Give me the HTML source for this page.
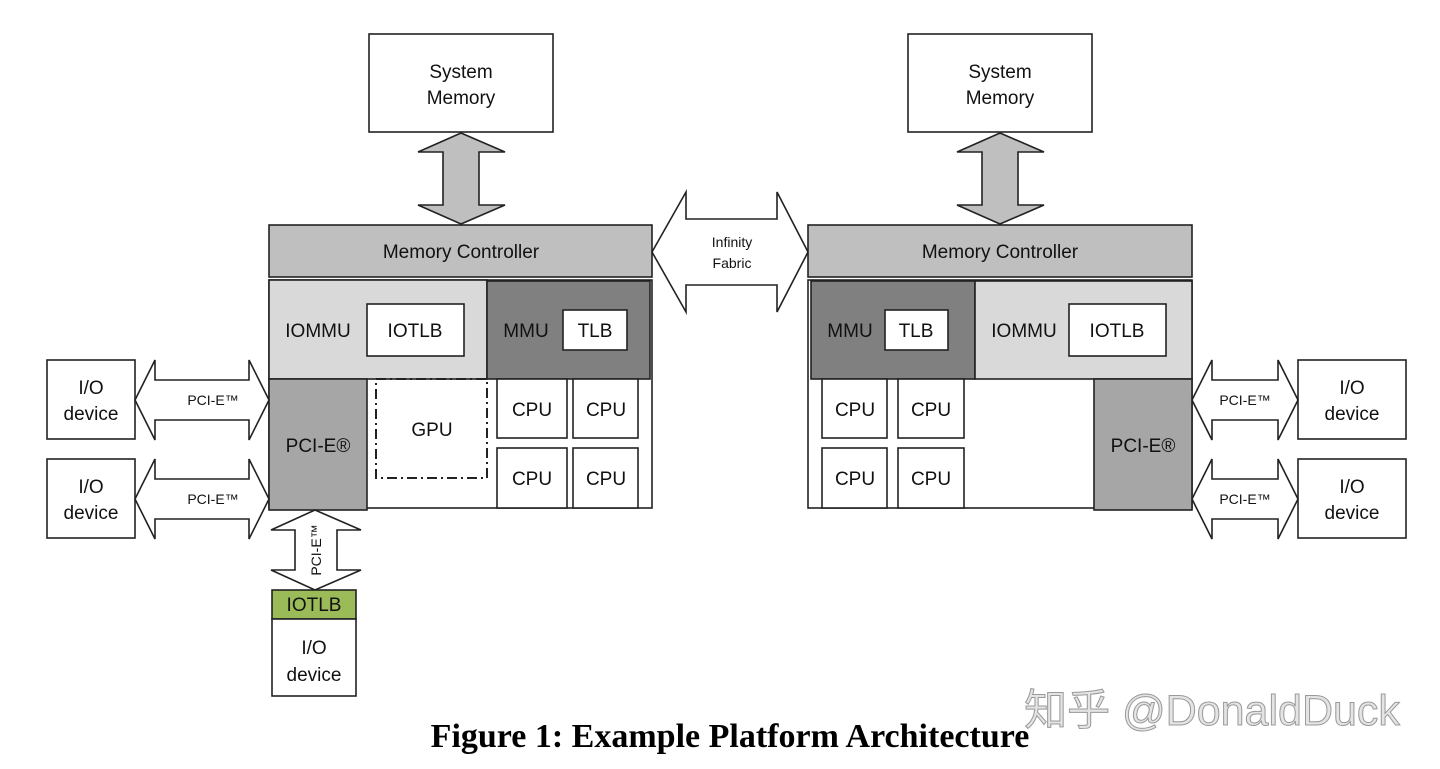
<!DOCTYPE html>
<html><head><meta charset="utf-8"><style>
html,body{margin:0;padding:0;background:#fff;}
svg{display:block;}
text{font-family:"Liberation Sans","DejaVu Sans",sans-serif;fill:#111;}
</style></head><body>
<svg width="1440" height="769" viewBox="0 0 1440 769" xmlns="http://www.w3.org/2000/svg">
<g stroke="#222" stroke-width="1.6">
<!-- LEFT -->
<rect x="369" y="34" width="184" height="98" fill="#fff"/>
<polygon points="461,133 505,152 479,152 479,205 505,205 461,224 418,205 443,205 443,152 418,152" fill="#bfbfbf"/>
<rect x="269" y="225" width="383" height="52" fill="#bfbfbf"/>
<rect x="269" y="280" width="383" height="228" fill="#fff"/>
<rect x="269" y="280" width="218" height="99" fill="#d9d9d9"/>
<rect x="367" y="304" width="97" height="52" fill="#fff"/>
<rect x="487" y="281" width="163" height="98" fill="#808080"/>
<rect x="563" y="310" width="64" height="40" fill="#fff"/>
<rect x="269" y="379" width="98" height="131" fill="#a6a6a6"/>
<rect x="376" y="379" width="111" height="99" fill="none" stroke-dasharray="10,4,2,4" stroke-width="2"/>
<rect x="497" y="379" width="70" height="59" fill="#fff"/>
<rect x="573" y="379" width="65" height="59" fill="#fff"/>
<rect x="497" y="448" width="70" height="60" fill="#fff"/>
<rect x="573" y="448" width="65" height="60" fill="#fff"/>
<rect x="47" y="360" width="88" height="79" fill="#fff"/>
<rect x="47" y="459" width="88" height="79" fill="#fff"/>
<polygon points="135,400 155,360 155,380 249,380 249,360 269,400 249,440 249,420 155,420 155,440" fill="#fff"/>
<polygon points="135,499 155,459 155,479 249,479 249,459 269,499 249,539 249,519 155,519 155,539" fill="#fff"/>
<polygon points="315,510 361,530 337,530 337,570 361,570 315,590 271,570 295,570 295,530 271,530" fill="#fff"/>
<rect x="272" y="590" width="84" height="29" fill="#9bbb59"/>
<rect x="272" y="619" width="84" height="77" fill="#fff"/>
<polygon points="652,252 686,192 686,219 777,219 777,192 808,252 777,312 777,285 686,285 686,312" fill="#fff"/>
<!-- RIGHT -->
<rect x="908" y="34" width="184" height="98" fill="#fff"/>
<polygon points="1000,133 1044,152 1018,152 1018,205 1044,205 1000,224 957,205 982,205 982,152 957,152" fill="#bfbfbf"/>
<rect x="808" y="225" width="384" height="52" fill="#bfbfbf"/>
<rect x="808" y="280" width="384" height="228" fill="#fff"/>
<rect x="811" y="281" width="164" height="98" fill="#808080"/>
<rect x="885" y="310" width="63" height="40" fill="#fff"/>
<rect x="975" y="281" width="217" height="98" fill="#d9d9d9"/>
<rect x="1069" y="304" width="97" height="52" fill="#fff"/>
<rect x="822" y="379" width="65" height="59" fill="#fff"/>
<rect x="898" y="379" width="66" height="59" fill="#fff"/>
<rect x="822" y="448" width="65" height="60" fill="#fff"/>
<rect x="898" y="448" width="66" height="60" fill="#fff"/>
<rect x="1094" y="379" width="98" height="131" fill="#a6a6a6"/>
<rect x="1298" y="360" width="108" height="79" fill="#fff"/>
<rect x="1298" y="459" width="108" height="79" fill="#fff"/>
<polygon points="1192,400 1212,360 1212,380 1278,380 1278,360 1298,400 1278,440 1278,420 1212,420 1212,440" fill="#fff"/>
<polygon points="1192,499 1212,459 1212,479 1278,479 1278,459 1298,499 1278,539 1278,519 1212,519 1212,539" fill="#fff"/>
</g>
<g font-size="19" text-anchor="middle">
<text x="461" y="78">System</text><text x="461" y="104">Memory</text>
<text x="461" y="258">Memory Controller</text>
<text x="318" y="337">IOMMU</text><text x="415" y="337">IOTLB</text>
<text x="526" y="337">MMU</text><text x="595" y="337">TLB</text>
<text x="318" y="452">PCI-E®</text>
<text x="432" y="436">GPU</text>
<text x="532" y="416">CPU</text><text x="606" y="416">CPU</text>
<text x="532" y="485">CPU</text><text x="606" y="485">CPU</text>
<text x="91" y="394">I/O</text><text x="91" y="420">device</text>
<text x="91" y="493">I/O</text><text x="91" y="519">device</text>
<text x="314" y="611">IOTLB</text>
<text x="314" y="654">I/O</text><text x="314" y="681">device</text>
<text x="1000" y="78">System</text><text x="1000" y="104">Memory</text>
<text x="1000" y="258">Memory Controller</text>
<text x="850" y="337">MMU</text><text x="916" y="337">TLB</text>
<text x="1024" y="337">IOMMU</text><text x="1117" y="337">IOTLB</text>
<text x="855" y="416">CPU</text><text x="931" y="416">CPU</text>
<text x="855" y="485">CPU</text><text x="931" y="485">CPU</text>
<text x="1143" y="452">PCI-E®</text>
<text x="1352" y="394">I/O</text><text x="1352" y="420">device</text>
<text x="1352" y="493">I/O</text><text x="1352" y="519">device</text>
</g>
<g font-size="14" text-anchor="middle">
<text x="213" y="405">PCI-E™</text><text x="213" y="504">PCI-E™</text>
<text x="1245" y="405">PCI-E™</text><text x="1245" y="504">PCI-E™</text>
<text x="732" y="247">Infinity</text><text x="732" y="268">Fabric</text>
<text transform="translate(321,550) rotate(-90)">PCI-E™</text>
</g>
<text x="1212" y="725" font-size="43" text-anchor="middle" style="font-family:'Liberation Sans','Noto Sans CJK SC',sans-serif;fill:#e4e4e4;stroke:#999;stroke-width:1">知乎 @DonaldDuck</text>
<text x="730" y="747" font-size="34" font-weight="bold" text-anchor="middle" style="font-family:'Liberation Serif',serif;fill:#000">Figure 1: Example Platform Architecture</text>
</svg>
</body></html>
